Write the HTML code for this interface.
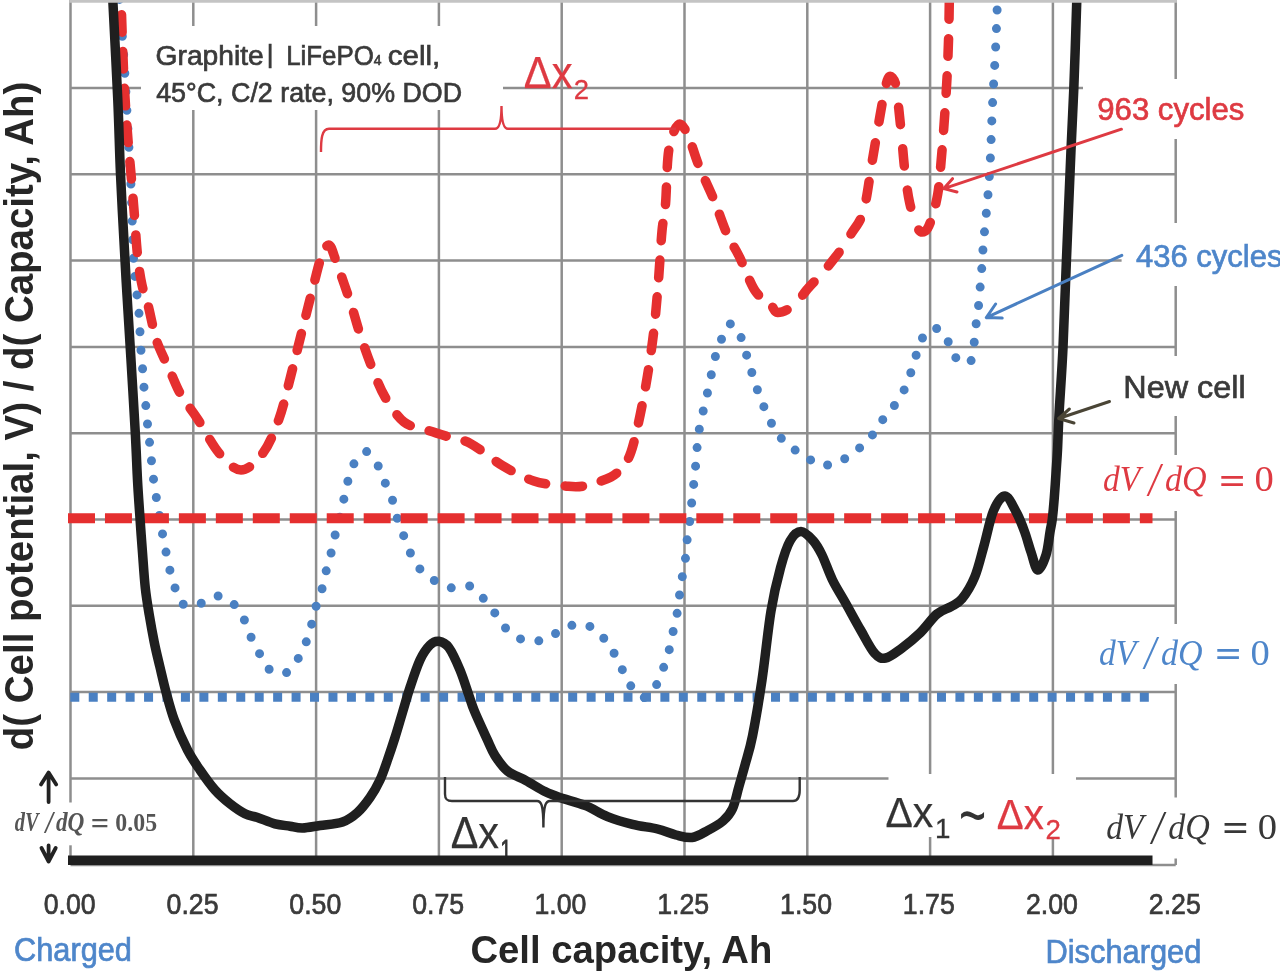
<!DOCTYPE html><html><head><meta charset="utf-8"><title>dV/dQ plot</title><style>html,body{margin:0;padding:0;background:#fff;overflow:hidden}svg{display:block}</style></head><body>
<svg width="1280" height="973" viewBox="0 0 1280 973">
<rect width="1280" height="973" fill="#fff"/>
<g stroke="#8e8e8e" stroke-width="2.5" fill="none">
<line x1="70.5" y1="0" x2="70.5" y2="865"/>
<line x1="193.3" y1="0" x2="193.3" y2="865"/>
<line x1="316.1" y1="0" x2="316.1" y2="865"/>
<line x1="438.9" y1="0" x2="438.9" y2="865"/>
<line x1="561.7" y1="0" x2="561.7" y2="865"/>
<line x1="684.5" y1="0" x2="684.5" y2="865"/>
<line x1="807.3" y1="0" x2="807.3" y2="865"/>
<line x1="930.1" y1="0" x2="930.1" y2="865"/>
<line x1="1052.9" y1="0" x2="1052.9" y2="865"/>
<line x1="1175.7" y1="0" x2="1175.7" y2="865"/>
<line x1="70.5" y1="88.0" x2="1175.7" y2="88.0"/>
<line x1="70.5" y1="174.3" x2="1175.7" y2="174.3"/>
<line x1="70.5" y1="260.6" x2="1175.7" y2="260.6"/>
<line x1="70.5" y1="346.9" x2="1175.7" y2="346.9"/>
<line x1="70.5" y1="433.2" x2="1175.7" y2="433.2"/>
<line x1="70.5" y1="519.5" x2="1175.7" y2="519.5"/>
<line x1="70.5" y1="605.8" x2="1175.7" y2="605.8"/>
<line x1="70.5" y1="692.1" x2="1175.7" y2="692.1"/>
<line x1="70.5" y1="778.4" x2="1175.7" y2="778.4"/>
<line x1="70.5" y1="865" x2="1175.7" y2="865"/>
</g>
<rect x="141.0" y="26.0" width="362.0" height="84.0" fill="#fff"/>
<rect x="1083.0" y="79.0" width="197.0" height="60.0" fill="#fff"/>
<rect x="1121.6" y="223.0" width="158.4" height="63.0" fill="#fff"/>
<rect x="1113.0" y="356.0" width="167.0" height="60.0" fill="#fff"/>
<rect x="1095.0" y="455.0" width="185.0" height="56.0" fill="#fff"/>
<rect x="1088.0" y="624.0" width="192.0" height="60.0" fill="#fff"/>
<rect x="888.5" y="774.0" width="187.5" height="63.0" fill="#fff"/>
<rect x="1098.0" y="797.5" width="182.0" height="61.0" fill="#fff"/>
<rect x="8.0" y="802.5" width="152.0" height="42.8" fill="#fff"/>
<path d="M119.0,-6.0 C119.1,-5.0 118.7,-11.0 119.5,0.0 C120.3,11.0 122.4,35.2 124.0,60.0 C125.6,84.8 127.8,128.0 129.0,149.0 C130.2,170.0 130.2,167.5 131.0,186.0 C131.8,204.5 132.9,244.8 133.6,260.0 C134.3,275.2 134.4,271.2 135.0,277.0 C135.6,282.8 136.3,288.9 137.0,295.0 C137.7,301.1 138.5,307.3 139.0,313.5 C139.5,319.7 139.7,325.8 140.0,332.0 C140.3,338.2 140.6,344.3 141.0,350.5 C141.4,356.7 142.1,362.8 142.6,369.0 C143.1,375.2 143.5,381.4 144.0,387.5 C144.5,393.6 145.2,399.4 145.8,405.5 C146.4,411.6 146.9,417.9 147.5,424.0 C148.1,430.1 148.8,435.8 149.5,442.0 C150.2,448.2 150.8,454.8 151.5,461.0 C152.2,467.2 152.7,472.8 153.5,479.0 C154.3,485.2 155.5,492.3 156.4,498.0 C157.3,503.7 158.0,507.0 159.0,513.0 C160.0,519.0 161.3,527.2 162.5,533.8 C163.7,540.2 164.8,545.9 166.0,552.0 C167.2,558.1 168.5,564.6 170.0,570.6 C171.5,576.6 172.8,582.2 175.0,587.8 C177.2,593.4 179.1,601.8 183.4,604.4 C187.7,607.0 194.9,604.8 200.6,603.4 C206.3,602.0 212.2,595.8 217.8,596.0 C223.4,596.2 229.6,600.4 234.0,604.4 C238.4,608.4 241.6,614.6 244.4,620.0 C247.2,625.4 248.5,631.4 251.0,637.0 C253.5,642.6 256.4,648.1 259.4,653.4 C262.4,658.7 264.4,665.7 268.8,669.0 C273.1,672.3 280.7,674.7 285.6,673.0 C290.5,671.3 294.6,663.8 298.0,658.8 C301.4,653.7 303.7,648.2 306.0,642.5 C308.3,636.8 309.9,630.4 311.6,624.4 C313.3,618.4 314.3,612.5 316.0,606.6 C317.7,600.7 320.3,594.8 322.0,589.0 C323.7,583.2 324.5,577.5 326.0,571.6 C327.5,565.7 329.5,559.4 331.0,553.4 C332.5,547.4 333.6,541.6 335.0,535.6 C336.4,529.6 338.2,523.5 339.7,517.5 C341.2,511.5 342.4,505.2 343.8,499.4 C345.1,493.6 345.8,488.4 347.5,482.5 C349.2,476.6 350.7,469.2 353.8,464.0 C356.8,458.8 362.0,451.2 366.0,451.5 C370.0,451.8 374.7,460.2 378.0,465.6 C381.3,471.0 383.1,477.9 385.6,483.8 C388.1,489.6 390.8,495.1 392.8,501.0 C394.8,506.9 395.7,513.2 397.5,519.0 C399.3,524.8 401.6,530.3 403.8,536.0 C405.9,541.7 407.9,547.9 410.6,553.4 C413.3,558.9 416.0,564.5 420.0,569.0 C424.0,573.5 429.2,577.5 434.4,580.6 C439.6,583.7 445.1,586.9 451.0,587.8 C456.9,588.7 464.4,584.3 469.7,586.0 C475.0,587.7 478.8,593.5 483.0,598.0 C487.2,602.5 491.0,607.9 494.7,612.8 C498.4,617.7 500.7,623.2 505.0,627.5 C509.3,631.8 514.8,636.5 520.3,638.8 C525.8,641.0 532.0,641.8 537.8,641.0 C543.6,640.2 549.3,636.4 555.0,633.8 C560.7,631.1 566.3,626.5 572.0,625.3 C577.7,624.0 584.2,624.2 589.4,626.2 C594.6,628.3 599.3,633.4 603.4,637.8 C607.5,642.2 610.6,647.6 613.8,652.8 C616.9,658.0 619.2,663.5 622.0,669.0 C624.8,674.5 626.9,680.9 630.6,685.6 C634.3,690.4 639.8,697.5 644.0,697.5 C648.2,697.5 652.8,690.5 656.0,685.6 C659.2,680.7 661.2,673.8 663.4,668.0 C665.6,662.2 667.4,656.4 669.0,650.6 C670.6,644.8 671.5,639.1 672.8,633.0 C674.1,626.9 675.9,620.2 677.0,614.0 C678.1,607.8 678.6,601.9 679.4,596.0 C680.2,590.1 681.0,584.4 682.0,578.4 C683.0,572.4 684.5,565.9 685.3,559.7 C686.1,553.5 686.3,547.1 687.0,541.0 C687.7,534.9 688.8,529.1 689.5,523.0 C690.2,516.9 690.8,510.6 691.5,504.4 C692.2,498.2 692.8,492.2 693.5,486.0 C694.2,479.8 694.6,476.2 695.5,467.0 C696.4,457.8 697.1,443.0 699.0,431.0 C700.9,419.0 704.3,407.2 707.0,395.0 C709.7,382.8 712.7,367.1 715.0,358.0 C717.3,348.9 718.7,346.3 721.0,340.6 C723.3,334.9 725.8,324.9 729.0,324.0 C732.2,323.1 736.3,327.3 740.0,335.0 C743.7,342.7 747.2,358.4 751.0,370.0 C754.8,381.6 758.1,393.4 763.0,404.7 C767.9,415.9 773.0,428.5 780.6,437.5 C788.2,446.5 801.2,454.2 808.8,458.8 C816.3,463.3 820.2,464.9 826.0,465.0 C831.8,465.1 837.9,462.2 843.4,459.4 C848.9,456.6 854.3,452.3 859.0,448.4 C863.7,444.5 867.7,440.7 871.6,436.0 C875.5,431.3 878.8,425.0 882.5,420.0 C886.2,415.0 890.5,410.9 894.0,406.0 C897.5,401.1 901.0,396.0 903.8,390.6 C906.5,385.2 908.6,379.2 910.6,373.4 C912.6,367.6 914.0,361.5 916.0,355.6 C918.0,349.7 919.3,342.6 922.5,338.0 C925.7,333.4 930.8,327.6 935.0,328.0 C939.2,328.4 944.0,335.6 947.5,340.6 C951.0,345.6 952.2,354.2 956.0,357.8 C959.8,361.4 967.0,364.3 970.0,362.0 C973.0,359.7 973.0,349.9 974.0,343.8 C975.0,337.6 975.3,331.1 976.0,325.0 C976.7,318.9 977.7,313.0 978.4,307.0 C979.1,301.0 979.5,295.1 980.0,289.0 C980.5,282.9 981.1,276.5 981.6,270.3 C982.1,264.1 982.3,257.9 982.8,251.6 C983.3,245.3 983.6,241.9 984.4,232.8 C985.2,223.7 986.8,209.2 987.8,197.0 C988.8,184.8 989.5,174.8 990.3,159.4 C991.1,144.0 991.6,123.2 992.5,104.7 C993.4,86.2 994.9,63.8 995.6,48.4 C996.4,33.0 996.6,21.6 997.0,12.5 C997.4,3.4 997.8,-2.9 998.0,-6.0" fill="none" stroke="#4a80c2" stroke-width="9" stroke-linecap="round" stroke-dasharray="0.00 18.50 0.00 18.50 0.00 18.50 0.00 18.50 0.00 18.50 0.00 18.50 0.00 18.50 0.00 18.50 0.00 18.50 0.00 18.50 0.00 18.50 0.00 18.50 0.00 18.50 0.00 18.50 0.00 18.50 0.00 18.50 0.00 18.50 0.00 18.50 0.00 18.50 0.00 18.50 0.00 18.50 0.00 18.50 0.00 18.50 0.00 18.50 0.00 18.50 0.00 18.50 0.00 18.50 0.00 18.50 0.00 18.50 0.00 18.50 0.00 18.50 0.00 18.50 0.00 18.50 0.00 18.50 0.00 18.50 0.00 18.50 0.00 18.50 0.00 18.50 0.00 18.50 0.00 18.50 0.00 18.50 0.00 18.45 0.00 18.45 0.00 18.45 0.00 18.45 0.00 18.45 0.00 18.45 0.00 18.45 0.00 18.45 0.00 18.45 0.00 18.45 0.00 18.45 0.00 18.45 0.00 18.45 0.00 18.45 0.00 18.58 0.00 18.58 0.00 18.58 0.00 18.58 0.00 18.58 0.00 18.58 0.00 18.58 0.00 18.58 0.00 18.58 0.00 18.58 0.00 18.58 0.00 18.58 0.00 18.58 0.00 18.58 0.00 18.58 0.00 18.30 0.00 18.30 0.00 18.30 0.00 18.30 0.00 18.30 0.00 18.30 0.00 18.30 0.00 18.30 0.00 18.30 0.00 18.56 0.00 18.56 0.00 18.56 0.00 18.56 0.00 18.56 0.00 18.56 0.00 18.56 0.00 18.56 0.00 18.56 0.00 18.56 0.00 18.56 0.00 18.56 0.00 18.56 0.00 18.56 0.00 18.56 0.00 18.56 0.00 18.56 0.00 18.56 0.00 18.56 0.00 18.56 0.00 18.14 0.00 18.14 0.00 18.14 0.00 18.14 0.00 18.14 0.00 18.14 0.00 18.14 0.00 18.14 0.00 18.14 0.00 18.14 0.00 18.36 0.00 18.36 0.00 18.36 0.00 18.36 0.00 18.36 0.00 18.36 0.00 18.36 0.00 18.36 0.00 18.36 0.00 18.36 0.00 17.64 0.00 17.64 0.00 17.64 0.00 18.50 0.00 18.50 0.00 18.50 0.00 18.50 0.00 18.50 0.00 18.50 0.00 18.50 0.00 18.50 0.00 18.50 0.00 18.50 0.00 18.50 0.00 18.50 0.00 18.50 0.00 18.50 0.00 18.50 0.00 18.50 0.00 18.50 0.00 18.50 0.00 18.50 0.00 18.50 0.00 2726.08" stroke-dashoffset="11.45"/>
<line x1="68" y1="518.3" x2="1152.5" y2="518.3" stroke="#e52f2f" stroke-width="10" stroke-dasharray="27 9.96"/>
<line x1="70.3" y1="697.3" x2="1150" y2="697.3" stroke="#4a80c2" stroke-width="9" stroke-dasharray="9 9.44"/>
<path d="M120.5,-6.0 C120.6,-5.0 120.4,-14.3 121.0,0.0 C121.6,14.3 122.8,56.7 124.0,80.0 C125.2,103.3 126.8,124.3 128.0,140.0 C129.2,155.7 130.0,162.3 131.0,174.0 C132.0,185.7 132.9,196.5 134.0,210.0 C135.1,223.5 136.2,242.5 137.5,255.0 C138.8,267.5 140.2,276.7 142.0,285.0 C143.8,293.3 146.2,298.0 148.0,305.0 C149.8,312.0 151.5,320.8 153.0,327.0 C154.5,333.2 154.9,336.2 157.0,342.0 C159.1,347.8 163.1,356.1 165.5,361.6 C167.9,367.1 169.0,369.3 171.7,375.0 C174.4,380.7 177.3,388.7 181.6,396.0 C185.9,403.3 191.3,409.2 197.5,418.8 C203.7,428.2 211.8,444.5 219.0,453.0 C226.2,461.5 233.7,470.0 241.0,470.0 C248.3,470.0 256.7,461.5 263.0,453.0 C269.3,444.5 274.3,432.0 279.0,419.0 C283.7,406.0 287.2,389.7 291.0,375.0 C294.8,360.3 298.3,345.6 302.0,331.0 C305.7,316.4 309.8,299.7 313.0,287.5 C316.2,275.3 318.3,265.1 321.0,258.0 C323.7,250.9 326.4,244.2 329.0,245.0 C331.6,245.8 332.9,252.8 336.5,262.5 C340.1,272.2 346.7,291.1 350.6,303.0 C354.5,314.9 356.4,323.0 360.0,334.0 C363.6,345.0 368.3,358.5 372.5,369.0 C376.7,379.5 379.8,388.2 385.0,397.0 C390.2,405.8 397.2,416.6 404.0,422.0 C410.8,427.4 417.8,427.1 425.6,429.7 C433.4,432.3 443.0,435.2 450.6,437.5 C458.2,439.8 462.4,439.1 471.0,443.8 C479.6,448.4 492.0,459.4 502.5,465.6 C513.0,471.8 523.3,477.6 533.8,481.0 C544.2,484.4 556.7,485.2 565.0,486.0 C573.3,486.8 576.1,487.5 583.8,486.0 C591.4,484.5 604.3,480.5 611.0,477.0 C617.7,473.5 620.7,469.2 624.0,465.0 C627.3,460.8 628.7,458.7 631.0,452.0 C633.3,445.3 635.7,435.3 638.0,425.0 C640.3,414.7 642.9,401.5 645.0,390.0 C647.1,378.5 648.8,367.7 650.5,356.0 C652.2,344.3 653.7,332.7 655.0,320.0 C656.3,307.3 657.3,294.8 658.5,280.0 C659.7,265.2 660.8,243.8 662.0,231.0 C663.2,218.2 664.5,216.5 665.6,203.0 C666.7,189.5 666.7,163.0 668.8,150.0 C670.8,137.0 674.9,127.7 678.0,125.0 C681.1,122.3 684.0,127.2 687.5,134.0 C691.0,140.8 694.3,154.6 698.8,165.6 C703.2,176.6 709.3,188.6 714.0,200.0 C718.7,211.4 722.8,224.7 727.0,234.0 C731.2,243.3 734.3,246.6 739.0,256.0 C743.7,265.4 749.7,282.5 755.0,290.6 C760.3,298.7 766.9,301.1 770.6,304.7 C774.4,308.3 773.8,312.3 777.5,312.5 C781.2,312.7 787.8,310.2 793.0,306.0 C798.2,301.8 804.1,292.7 808.8,287.5 C813.4,282.3 815.9,280.4 820.6,275.0 C825.3,269.6 831.9,261.8 837.0,255.0 C842.1,248.2 847.1,240.0 851.0,234.0 C854.9,228.0 858.1,224.4 860.6,218.8 C863.1,213.1 864.1,209.4 866.0,200.0 C867.9,190.6 869.9,175.0 872.0,162.5 C874.1,150.0 876.3,137.0 878.4,125.0 C880.5,113.0 882.9,98.7 884.7,90.6 C886.5,82.5 887.6,77.7 889.4,76.6 C891.2,75.5 894.0,78.6 895.6,84.0 C897.2,89.4 897.7,99.6 898.8,109.0 C899.8,118.4 901.0,130.1 902.0,140.6 C903.0,151.1 903.7,161.6 905.0,172.0 C906.3,182.4 907.6,193.7 909.7,203.0 C911.8,212.3 914.9,223.3 917.5,228.0 C920.1,232.7 922.9,232.5 925.3,231.0 C927.6,229.5 929.5,225.0 931.6,218.8 C933.7,212.5 936.2,203.1 937.8,193.8 C939.4,184.4 940.0,174.0 941.0,162.5 C942.0,151.0 943.0,139.1 944.0,125.0 C945.0,110.9 946.2,93.7 947.0,78.0 C947.8,62.3 948.4,45.0 948.8,31.0 C949.1,17.0 949.3,0.2 949.4,-6.0" fill="none" stroke="#e52f2f" stroke-width="9.5" stroke-linecap="round" stroke-dasharray="17.50 19.50 17.50 19.27 17.50 19.27 17.50 19.27 17.50 19.27 17.50 19.27 17.50 19.27 17.50 19.27 17.50 19.27 17.50 19.27 17.50 19.27 17.50 19.27 17.50 19.27 17.50 19.27 17.50 18.82 17.50 18.82 17.50 18.82 17.50 18.82 17.50 18.82 17.50 18.82 17.50 18.82 17.50 19.73 17.50 19.73 17.50 19.72 17.50 19.73 17.50 19.73 17.50 19.73 17.50 19.73 17.50 19.72 17.50 19.73 17.50 19.72 17.50 19.23 17.50 19.23 17.50 19.23 17.50 19.23 17.50 19.23 17.50 19.23 17.50 19.23 17.50 19.23 17.50 19.23 17.50 19.23 17.50 19.23 17.50 18.83 17.50 18.83 17.50 18.83 17.50 18.83 17.50 18.83 17.50 18.83 17.50 21.50 17.50 21.50 17.50 21.50 17.50 21.50 17.50 21.50 17.50 21.50 17.50 21.50 17.50 24.12 17.50 24.12 17.50 24.12 17.50 24.12 17.50 19.50 17.50 19.50 17.50 19.50 17.50 19.50 17.50 19.50 17.50 19.50 17.50 19.50 17.50 2559.08" stroke-dashoffset="12.25"/>
<path d="M112.3,-6.0 C112.4,-5.0 111.9,-17.7 112.8,0.0 C113.7,17.7 116.5,71.0 117.8,100.0 C119.1,129.0 119.3,147.3 120.5,174.0 C121.7,200.7 123.9,239.8 125.0,260.0 C126.1,280.2 126.0,278.3 127.0,295.0 C128.0,311.7 129.6,337.0 131.0,360.0 C132.4,383.0 134.2,413.0 135.3,433.0 C136.4,453.0 136.8,467.0 137.5,480.0 C138.2,493.0 138.7,499.3 139.5,511.0 C140.3,522.7 141.3,537.2 142.3,550.0 C143.3,562.8 144.1,577.2 145.3,588.0 C146.5,598.8 147.8,606.0 149.3,615.0 C150.8,624.0 152.5,633.5 154.2,642.0 C155.9,650.5 157.7,657.7 159.7,666.0 C161.7,674.3 163.6,683.0 166.0,692.0 C168.4,701.0 170.7,710.3 174.3,720.0 C177.9,729.7 183.2,741.7 187.5,750.0 C191.8,758.3 195.4,763.3 200.0,770.0 C204.6,776.7 210.0,784.4 215.0,790.0 C220.0,795.6 225.0,799.8 230.0,803.8 C235.0,807.7 240.4,811.5 245.0,813.8 C249.6,816.0 252.5,815.8 257.5,817.5 C262.5,819.2 269.6,822.3 275.0,823.8 C280.4,825.2 285.4,825.5 290.0,826.2 C294.6,827.0 297.5,828.1 302.5,828.0 C307.5,827.9 313.3,826.5 320.0,825.5 C326.7,824.5 336.2,824.2 342.5,822.0 C348.8,819.8 352.9,816.6 357.5,812.5 C362.1,808.4 366.2,802.9 370.0,797.5 C373.8,792.1 377.1,786.2 380.0,780.0 C382.9,773.8 385.0,767.1 387.5,760.0 C390.0,752.9 392.5,745.4 395.0,737.5 C397.5,729.6 400.0,720.8 402.5,712.5 C405.0,704.2 407.1,696.2 410.0,687.5 C412.9,678.8 416.7,667.1 420.0,660.0 C423.3,652.9 426.9,648.1 430.0,645.0 C433.1,641.9 435.6,640.8 438.8,641.2 C441.9,641.7 445.2,642.7 448.8,647.5 C452.3,652.3 456.7,662.1 460.0,670.0 C463.3,677.9 466.4,688.2 468.8,695.0 C471.1,701.8 471.4,703.7 474.4,711.0 C477.4,718.3 483.6,731.6 487.0,739.0 C490.4,746.4 491.6,750.3 495.0,755.6 C498.4,760.9 502.3,766.8 507.5,771.0 C512.7,775.2 519.8,777.2 526.0,780.6 C532.2,784.0 539.2,788.7 545.0,791.6 C550.8,794.5 553.8,795.5 560.6,797.8 C567.4,800.1 577.8,802.5 585.6,805.6 C593.4,808.7 599.7,813.5 607.5,816.6 C615.3,819.7 624.2,822.3 632.5,824.4 C640.8,826.5 650.2,827.2 657.5,829.0 C664.8,830.8 670.2,833.6 676.0,835.0 C681.8,836.4 686.8,838.2 692.0,837.5 C697.2,836.8 702.3,833.4 707.5,830.6 C712.7,827.9 718.8,824.6 723.0,821.0 C727.2,817.4 729.9,814.4 732.5,808.8 C735.1,803.1 736.7,794.3 738.8,787.0 C740.8,779.7 742.7,773.5 745.0,765.0 C747.3,756.5 749.7,750.2 752.5,736.0 C755.3,721.8 758.9,700.8 762.0,680.0 C765.1,659.2 767.9,629.8 771.0,611.0 C774.1,592.2 777.4,579.2 780.6,567.5 C783.8,555.8 786.6,547.0 790.0,541.0 C793.4,535.0 797.1,531.6 801.0,531.6 C804.9,531.6 809.9,537.1 813.4,541.0 C816.9,544.9 818.8,548.5 822.0,555.0 C825.2,561.5 828.7,572.2 832.5,580.0 C836.3,587.8 840.3,593.7 845.0,602.0 C849.7,610.3 855.6,621.4 860.6,630.0 C865.6,638.6 870.5,648.7 874.7,653.4 C878.9,658.1 881.2,658.8 885.6,658.0 C890.0,657.2 895.3,652.9 901.0,648.8 C906.7,644.6 914.0,638.8 920.0,633.0 C926.0,627.2 931.8,618.4 937.0,614.0 C942.2,609.6 946.8,609.1 951.0,606.6 C955.2,604.1 958.0,603.7 962.0,598.8 C966.0,593.8 971.0,585.9 974.7,577.0 C978.4,568.1 980.9,556.6 984.0,545.6 C987.1,534.6 989.9,519.3 993.4,511.0 C996.9,502.7 1001.2,495.8 1005.0,496.0 C1008.8,496.2 1013.1,506.4 1016.4,512.4 C1019.7,518.4 1022.3,525.4 1024.7,532.0 C1027.1,538.6 1028.8,545.7 1031.0,552.0 C1033.2,558.3 1035.3,569.5 1037.8,570.0 C1040.3,570.5 1044.0,561.3 1046.0,555.0 C1048.0,548.7 1049.0,538.0 1050.0,532.0 C1051.0,526.0 1051.6,524.7 1052.3,519.0 C1053.0,513.3 1053.7,505.3 1054.3,497.6 C1054.9,489.9 1055.5,480.9 1056.0,473.0 C1056.5,465.1 1057.0,459.7 1057.5,450.0 C1058.0,440.3 1058.1,432.1 1059.0,415.0 C1059.9,397.9 1061.8,373.2 1063.0,347.5 C1064.2,321.8 1065.1,293.9 1066.4,261.0 C1067.7,228.1 1069.8,178.7 1071.0,150.0 C1072.2,121.3 1072.8,113.3 1073.8,88.8 C1074.8,64.3 1076.2,18.8 1076.7,3.0 C1077.2,-12.8 1077.0,-4.5 1077.0,-6.0" fill="none" stroke="#1f1f1f" stroke-width="9.5" stroke-linejoin="round"/>
<line x1="69.3" y1="1.4" x2="1176.9" y2="1.4" stroke="#c4c4c4" stroke-width="2.8"/>
<path d="M321,152 C321,140 321.5,128.8 329,128.8 L495,128.8 C499.5,128.8 501.5,122 501.5,106 C501.5,122 503.5,128.8 508,128.8 L676,128.8" fill="none" stroke="#de3a42" stroke-width="2.4"/>
<path d="M445,777 L445,794 C445,799.5 447,801 452,801 L537,801 C541,801 543.4,804 543.4,827.5 C543.4,804 546,801 550,801 L793,801 C798,801 799.7,797 799.7,790 L799.7,777" fill="none" stroke="#333" stroke-width="2.4"/>
<g fill="none" stroke-linecap="round" stroke-linejoin="round">
<path d="M1121.4,129.2 L943.8,188.6 M957,192 L943.8,188.6 L952.5,178.7" stroke="#de3a42" stroke-width="3"/>
<path d="M1121.8,255.3 L986.3,317.6 M1002.2,318.1 L986.3,317.6 L995.6,304" stroke="#4a80c2" stroke-width="3"/>
<path d="M1109.5,401.5 L1058.6,418.5 M1074,423 L1058.6,418.5 L1069.4,409" stroke="#4a4536" stroke-width="3"/>
</g>
<g fill="none" stroke="#222" stroke-width="3.8" stroke-linecap="round" stroke-linejoin="round"><path d="M48.6,802 L48.6,774 M41,784.5 L48.6,772.5 L56.2,784.5"/><path d="M48.6,845.5 L48.6,861 M41.5,848 L48.6,861.5 L55.7,848"/></g>
<text x="155.59" y="64.80" font-family="'Liberation Sans', Arial, sans-serif" font-size="27.42" fill="#3a3a3a" textLength="108.12" lengthAdjust="spacingAndGlyphs" stroke="#3a3a3a" stroke-width="0.70">Graphite</text>
<text x="266.30" y="63.42" font-family="'Liberation Sans', Arial, sans-serif" font-size="26.24" fill="#3a3a3a" textLength="7.79" lengthAdjust="spacingAndGlyphs" stroke="#3a3a3a" stroke-width="0.30">|</text>
<text x="286.16" y="64.80" font-family="'Liberation Sans', Arial, sans-serif" font-size="28.22" fill="#3a3a3a" textLength="87.77" lengthAdjust="spacingAndGlyphs" stroke="#3a3a3a" stroke-width="0.70">LiFePO</text>
<text x="373.69" y="64.80" font-family="'Liberation Sans', Arial, sans-serif" font-size="15.27" fill="#3a3a3a" textLength="7.71" lengthAdjust="spacingAndGlyphs" stroke="#3a3a3a" stroke-width="0.70">4</text>
<text x="387.75" y="64.80" font-family="'Liberation Sans', Arial, sans-serif" font-size="27.59" fill="#3a3a3a" textLength="52.43" lengthAdjust="spacingAndGlyphs" stroke="#3a3a3a" stroke-width="0.70">cell,</text>
<text x="156.20" y="101.50" font-family="'Liberation Sans', Arial, sans-serif" font-size="27.35" fill="#3a3a3a" textLength="305.87" lengthAdjust="spacingAndGlyphs" stroke="#3a3a3a" stroke-width="0.70">45°C, C/2 rate, 90% DOD</text>
<text x="523.85" y="88.00" font-family="'Liberation Sans', Arial, sans-serif" font-size="44.51" fill="#de3a42" textLength="48.69" lengthAdjust="spacingAndGlyphs" stroke="#de3a42" stroke-width="0.25">Δx</text>
<text x="573.63" y="99.00" font-family="'Liberation Sans', Arial, sans-serif" font-size="27.81" fill="#de3a42" textLength="15.28" lengthAdjust="spacingAndGlyphs" stroke="#de3a42" stroke-width="0.30">2</text>
<text x="1097.27" y="119.80" font-family="'Liberation Sans', Arial, sans-serif" font-size="31.94" fill="#de3a42" textLength="147.11" lengthAdjust="spacingAndGlyphs" stroke="#de3a42" stroke-width="0.70">963 cycles</text>
<text x="1136.10" y="266.80" font-family="'Liberation Sans', Arial, sans-serif" font-size="32.00" fill="#4e86ca" textLength="146.27" lengthAdjust="spacingAndGlyphs" stroke="#4e86ca" stroke-width="0.70">436 cycles</text>
<text x="1123.33" y="398.30" font-family="'Liberation Sans', Arial, sans-serif" font-size="32.15" fill="#3a3a3a" textLength="122.32" lengthAdjust="spacingAndGlyphs" stroke="#3a3a3a" stroke-width="0.70">New cell</text>
<text x="1103.09" y="491.40" font-family="'Liberation Serif', 'Times New Roman', serif" font-size="35.89" fill="#de3a42" textLength="37.26" lengthAdjust="spacingAndGlyphs" font-style="italic">dV</text>
<text x="1148.47" y="496.12" font-family="'Liberation Serif', 'Times New Roman', serif" font-size="47.76" fill="#de3a42" textLength="11.53" lengthAdjust="spacingAndGlyphs" font-style="italic">/</text>
<text x="1165.08" y="491.40" font-family="'Liberation Serif', 'Times New Roman', serif" font-size="35.89" fill="#de3a42" textLength="41.61" lengthAdjust="spacingAndGlyphs" font-style="italic">dQ</text>
<text x="1218.98" y="493.81" font-family="'Liberation Serif', 'Times New Roman', serif" font-size="38.52" fill="#de3a42" textLength="26.47" lengthAdjust="spacingAndGlyphs" font-weight="bold">=</text>
<text x="1254.45" y="491.40" font-family="'Liberation Serif', 'Times New Roman', serif" font-size="35.56" fill="#de3a42" textLength="19.29" lengthAdjust="spacingAndGlyphs">0</text>
<text x="1099.09" y="664.50" font-family="'Liberation Serif', 'Times New Roman', serif" font-size="35.89" fill="#4e86ca" textLength="37.26" lengthAdjust="spacingAndGlyphs" font-style="italic">dV</text>
<text x="1144.47" y="669.22" font-family="'Liberation Serif', 'Times New Roman', serif" font-size="47.76" fill="#4e86ca" textLength="11.53" lengthAdjust="spacingAndGlyphs" font-style="italic">/</text>
<text x="1161.08" y="664.50" font-family="'Liberation Serif', 'Times New Roman', serif" font-size="35.89" fill="#4e86ca" textLength="41.61" lengthAdjust="spacingAndGlyphs" font-style="italic">dQ</text>
<text x="1214.98" y="666.91" font-family="'Liberation Serif', 'Times New Roman', serif" font-size="38.52" fill="#4e86ca" textLength="26.47" lengthAdjust="spacingAndGlyphs" font-weight="bold">=</text>
<text x="1250.45" y="664.50" font-family="'Liberation Serif', 'Times New Roman', serif" font-size="35.56" fill="#4e86ca" textLength="19.29" lengthAdjust="spacingAndGlyphs">0</text>
<text x="1106.29" y="839.00" font-family="'Liberation Serif', 'Times New Roman', serif" font-size="35.89" fill="#383838" textLength="37.26" lengthAdjust="spacingAndGlyphs" font-style="italic">dV</text>
<text x="1151.67" y="843.72" font-family="'Liberation Serif', 'Times New Roman', serif" font-size="47.76" fill="#383838" textLength="11.53" lengthAdjust="spacingAndGlyphs" font-style="italic">/</text>
<text x="1168.28" y="839.00" font-family="'Liberation Serif', 'Times New Roman', serif" font-size="35.89" fill="#383838" textLength="41.61" lengthAdjust="spacingAndGlyphs" font-style="italic">dQ</text>
<text x="1222.18" y="841.41" font-family="'Liberation Serif', 'Times New Roman', serif" font-size="38.52" fill="#383838" textLength="26.47" lengthAdjust="spacingAndGlyphs" font-weight="bold">=</text>
<text x="1257.65" y="839.00" font-family="'Liberation Serif', 'Times New Roman', serif" font-size="35.56" fill="#383838" textLength="19.29" lengthAdjust="spacingAndGlyphs">0</text>
<text x="14.74" y="831.25" font-family="'Liberation Serif', 'Times New Roman', serif" font-size="26.60" fill="#555555" textLength="23.86" lengthAdjust="spacingAndGlyphs" font-weight="bold" font-style="italic">dV</text>
<text x="45.38" y="833.44" font-family="'Liberation Serif', 'Times New Roman', serif" font-size="31.01" fill="#555555" textLength="7.53" lengthAdjust="spacingAndGlyphs" font-weight="bold" font-style="italic">/</text>
<text x="55.96" y="831.25" font-family="'Liberation Serif', 'Times New Roman', serif" font-size="26.60" fill="#555555" textLength="28.42" lengthAdjust="spacingAndGlyphs" font-weight="bold" font-style="italic">dQ</text>
<text x="90.89" y="834.46" font-family="'Liberation Serif', 'Times New Roman', serif" font-size="32.22" fill="#555555" textLength="18.38" lengthAdjust="spacingAndGlyphs" font-weight="bold">=</text>
<text x="115.35" y="831.25" font-family="'Liberation Serif', 'Times New Roman', serif" font-size="25.04" fill="#555555" textLength="41.79" lengthAdjust="spacingAndGlyphs" font-weight="bold">0.05</text>
<text x="885.47" y="826.50" font-family="'Liberation Sans', Arial, sans-serif" font-size="42.18" fill="#333" textLength="47.76" lengthAdjust="spacingAndGlyphs" stroke="#333" stroke-width="0.25">Δx</text>
<text x="934.92" y="838.20" font-family="'Liberation Sans', Arial, sans-serif" font-size="26.91" fill="#333" textLength="15.43" lengthAdjust="spacingAndGlyphs" stroke="#333" stroke-width="0.30">1</text>
<text x="958.91" y="838.92" font-family="'Liberation Sans', Arial, sans-serif" font-size="71.20" fill="#333" textLength="27.13" lengthAdjust="spacingAndGlyphs" stroke="#333" stroke-width="0.01">~</text>
<text x="996.79" y="828.60" font-family="'Liberation Sans', Arial, sans-serif" font-size="43.05" fill="#de3a42" textLength="47.03" lengthAdjust="spacingAndGlyphs" stroke="#de3a42" stroke-width="0.25">Δx</text>
<text x="1045.62" y="839.00" font-family="'Liberation Sans', Arial, sans-serif" font-size="27.67" fill="#de3a42" textLength="15.40" lengthAdjust="spacingAndGlyphs" stroke="#de3a42" stroke-width="0.30">2</text>
<text x="450.76" y="848.40" font-family="'Liberation Sans', Arial, sans-serif" font-size="45.09" fill="#333" textLength="48.28" lengthAdjust="spacingAndGlyphs" stroke="#333" stroke-width="0.25">Δx</text>
<text x="500.54" y="858.80" font-family="'Liberation Sans', Arial, sans-serif" font-size="26.91" fill="#333" textLength="10.80" lengthAdjust="spacingAndGlyphs" stroke="#333" stroke-width="0.90">1</text>
<text x="43.70" y="914.00" font-family="'Liberation Sans', Arial, sans-serif" font-size="28.69" fill="#3a3a3a" textLength="51.96" lengthAdjust="spacingAndGlyphs" stroke="#3a3a3a" stroke-width="0.70">0.00</text>
<text x="166.54" y="914.00" font-family="'Liberation Sans', Arial, sans-serif" font-size="28.69" fill="#3a3a3a" textLength="51.96" lengthAdjust="spacingAndGlyphs" stroke="#3a3a3a" stroke-width="0.70">0.25</text>
<text x="289.30" y="914.00" font-family="'Liberation Sans', Arial, sans-serif" font-size="28.69" fill="#3a3a3a" textLength="51.96" lengthAdjust="spacingAndGlyphs" stroke="#3a3a3a" stroke-width="0.70">0.50</text>
<text x="412.14" y="914.00" font-family="'Liberation Sans', Arial, sans-serif" font-size="28.69" fill="#3a3a3a" textLength="51.96" lengthAdjust="spacingAndGlyphs" stroke="#3a3a3a" stroke-width="0.70">0.75</text>
<text x="534.44" y="914.00" font-family="'Liberation Sans', Arial, sans-serif" font-size="28.69" fill="#3a3a3a" textLength="51.96" lengthAdjust="spacingAndGlyphs" stroke="#3a3a3a" stroke-width="0.70">1.00</text>
<text x="657.27" y="914.00" font-family="'Liberation Sans', Arial, sans-serif" font-size="28.69" fill="#3a3a3a" textLength="51.96" lengthAdjust="spacingAndGlyphs" stroke="#3a3a3a" stroke-width="0.70">1.25</text>
<text x="780.04" y="914.00" font-family="'Liberation Sans', Arial, sans-serif" font-size="28.69" fill="#3a3a3a" textLength="51.96" lengthAdjust="spacingAndGlyphs" stroke="#3a3a3a" stroke-width="0.70">1.50</text>
<text x="902.87" y="914.00" font-family="'Liberation Sans', Arial, sans-serif" font-size="28.69" fill="#3a3a3a" textLength="51.96" lengthAdjust="spacingAndGlyphs" stroke="#3a3a3a" stroke-width="0.70">1.75</text>
<text x="1025.97" y="914.00" font-family="'Liberation Sans', Arial, sans-serif" font-size="28.69" fill="#3a3a3a" textLength="51.96" lengthAdjust="spacingAndGlyphs" stroke="#3a3a3a" stroke-width="0.70">2.00</text>
<text x="1148.80" y="914.00" font-family="'Liberation Sans', Arial, sans-serif" font-size="28.69" fill="#3a3a3a" textLength="51.96" lengthAdjust="spacingAndGlyphs" stroke="#3a3a3a" stroke-width="0.70">2.25</text>
<text x="470.47" y="962.50" font-family="'Liberation Sans', Arial, sans-serif" font-size="38.16" fill="#262626" textLength="301.90" lengthAdjust="spacingAndGlyphs" font-weight="bold">Cell capacity, Ah</text>
<text x="14.06" y="961.25" font-family="'Liberation Sans', Arial, sans-serif" font-size="32.51" fill="#4e86ca" textLength="117.89" lengthAdjust="spacingAndGlyphs" stroke="#4e86ca" stroke-width="0.70">Charged</text>
<text x="1045.46" y="962.80" font-family="'Liberation Sans', Arial, sans-serif" font-size="32.73" fill="#4e86ca" textLength="155.89" lengthAdjust="spacingAndGlyphs" stroke="#4e86ca" stroke-width="0.70">Discharged</text>
<text transform="translate(32.7,750.14) rotate(-90)" x="0" y="0" font-family="'Liberation Sans', Arial, sans-serif" font-size="40.14" font-weight="bold" fill="#262626" textLength="668.47" lengthAdjust="spacingAndGlyphs">d( Cell potential, V) / d( Capacity, Ah)</text>
<rect x="68" y="855.5" width="1084.5" height="9.5" fill="#1f1f1f"/>
</svg></body></html>
